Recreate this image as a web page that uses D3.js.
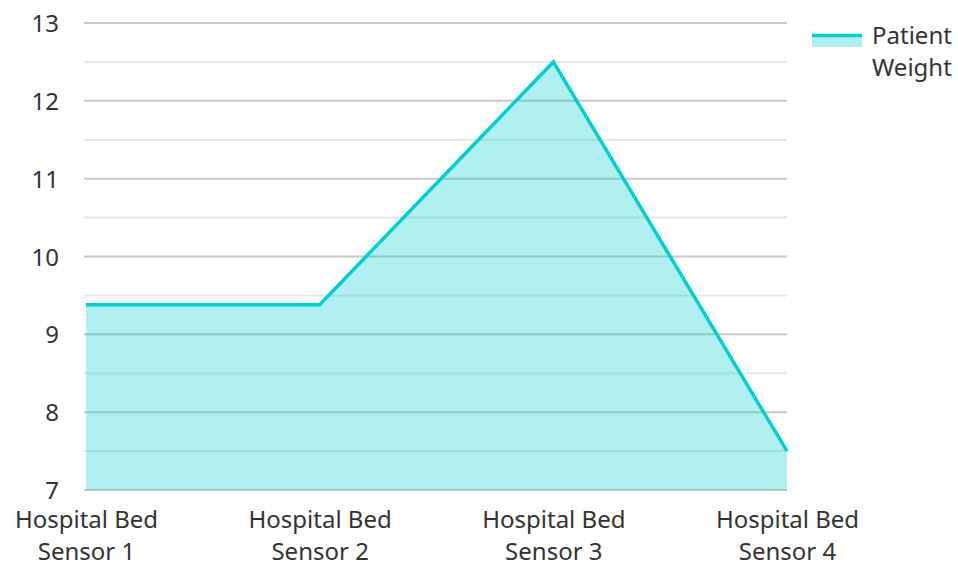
<!DOCTYPE html>
<html>
  <head>
    <meta charset="utf-8" />
    <title>Patient Weight</title>
    <script src="https://d3js.org/d3.v7.min.js"></script>
    <style>
      body { margin: 0; background: #fff; }
      text { font-family: "Noto Sans", "Open Sans", sans-serif; fill: #333; }
    </style>
  </head>
  <body>
    <svg id="chart" width="958" height="562"></svg>
  </body>
  <script>
    // chart data
    var categories = ["Hospital Bed Sensor 1", "Hospital Bed Sensor 2", "Hospital Bed Sensor 3", "Hospital Bed Sensor 4"];
    var weights = [9.38, 9.38, 12.5, 7.5];
    var yTicks = [7, 8, 9, 10, 11, 12, 13];
    var seriesName = ["Patient", "Weight"];

    var svg = d3.select("#chart");
    var plotLeft = 86, plotRight = 787, plotTop = 23, plotBottom = 490;
    var fontSize = 24;

    var x = d3.scalePoint().domain(categories).range([plotLeft, plotRight]);
    var y = d3.scaleLinear().domain([7, 13]).range([plotBottom, plotTop]);

    // gridlines, half steps lighter
    var grid = d3.range(7, 13.01, 0.5);
    svg.selectAll(".grid")
      .data(grid)
      .enter().append("line")
      .attr("class", "grid")
      .attr("x1", plotLeft - 2)
      .attr("x2", plotRight)
      .attr("y1", function(d){ return y(d); })
      .attr("y2", function(d){ return y(d); })
      .attr("stroke", function(d){ return d % 1 === 0 ? "#c8c8c8" : "#e6e6e6"; })
      .attr("stroke-width", 2);

    var area = d3.area()
      .x(function(d, i){ return x(categories[i]); })
      .y0(y(7))
      .y1(function(d){ return y(d); });
    var line = d3.line()
      .x(function(d, i){ return x(categories[i]); })
      .y(function(d){ return y(d); });

    svg.append("path")
      .datum(weights)
      .attr("d", area)
      .attr("fill", "rgba(0, 206, 209, 0.31)");
    svg.append("path")
      .datum(weights)
      .attr("d", line)
      .attr("fill", "none")
      .attr("stroke", "#00ced1")
      .attr("stroke-width", 3.5);

    // y axis labels
    var yAxis = d3.axisLeft(y).tickValues(yTicks).tickSize(0).tickPadding(0).tickFormat(d3.format("d"));
    var yg = svg.append("g").attr("transform", "translate(59,0)").call(yAxis);
    yg.select(".domain").remove();
    yg.attr("font-size", null).attr("font-family", null);
    yg.selectAll("text")
      .attr("font-size", fontSize)
      .attr("fill", null)
      .attr("dy", "0.36em");

    // x axis labels, two lines each
    var xAxis = d3.axisBottom(x).tickSize(0).tickFormat("");
    var xg = svg.append("g").attr("transform", "translate(0," + plotBottom + ")").call(xAxis);
    xg.select(".domain").remove();
    xg.attr("font-size", null).attr("font-family", null);
    xg.selectAll(".tick").each(function(d){
      var words = d.split(" ");
      var t = d3.select(this).append("text")
        .attr("text-anchor", "middle")
        .attr("font-size", fontSize);
      t.append("tspan").attr("x", 0).attr("y", 38).text(words.slice(0, 2).join(" "));
      t.append("tspan").attr("x", 0).attr("y", 70).text(words.slice(2).join(" "));
    });

    // legend
    var lg = svg.append("g").attr("transform", "translate(812,34)");
    lg.append("rect").attr("x", 0).attr("y", 0).attr("width", 50).attr("height", 13)
      .attr("fill", "rgba(0, 206, 209, 0.31)");
    lg.append("line").attr("x1", 0).attr("x2", 50).attr("y1", 1.5).attr("y2", 1.5)
      .attr("stroke", "#00ced1").attr("stroke-width", 3.5);
    lg.selectAll(".lt")
      .data(seriesName)
      .enter().append("text")
      .attr("class", "lt")
      .attr("x", 60)
      .attr("y", function(d, i){ return 10 + i * 32; })
      .attr("font-size", fontSize)
      .text(function(d){ return d; });
  </script>
</html>
